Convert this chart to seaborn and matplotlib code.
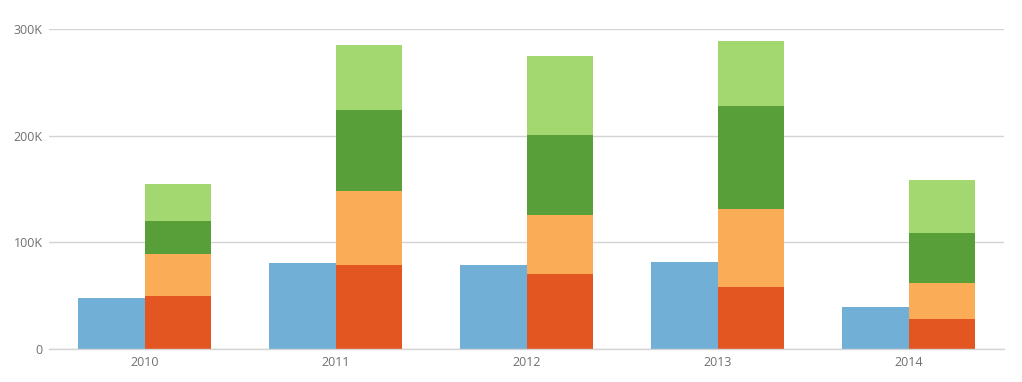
import numpy as np
import pandas as pd
import seaborn as sns
from matplotlib import pyplot as plt
from matplotlib.ticker import FuncFormatter

years = ['2010', '2011', '2012', '2013', '2014']
blue = [48000, 81000, 79000, 82000, 39000]
red = [50000, 79000, 70000, 58000, 28000]
orange = [39000, 69000, 56000, 73000, 34000]
dgreen = [31000, 76000, 75000, 97000, 47000]
lgreen = [35000, 61000, 74000, 61000, 49000]

colors = {'blue': '#71afd7', 'red': '#e35622', 'orange': '#faac57',
          'dgreen': '#589e39', 'lgreen': '#a3d871'}

sns.set_theme(style='white')
plt.rcParams['font.family'] = ['Open Sans', 'DejaVu Sans']

fig = plt.figure(figsize=(10.22, 3.82), dpi=100)
ax = fig.add_axes([49/1022, 1-349/382, (1004-49)/1022, 320/382])

# stacked side: draw cumulative tops from highest layer down
layers = [('lgreen', lgreen), ('dgreen', dgreen), ('orange', orange), ('red', red)]
stack = np.array([red, orange, dgreen, lgreen]).cumsum(axis=0)
tops = stack[::-1]
for (name, _), top in zip(layers, tops):
    d = pd.DataFrame({'year': years, 'val': top, 'side': 'stack'})
    sns.barplot(data=d, x='year', y='val', hue='side', hue_order=['single', 'stack'],
                palette={'single': colors['blue'], 'stack': colors[name]},
                dodge=True, width=0.7, linewidth=0, saturation=1, legend=False,
                errorbar=None, ax=ax)

d = pd.DataFrame({'year': years, 'val': blue, 'side': 'single'})
sns.barplot(data=d, x='year', y='val', hue='side', hue_order=['single', 'stack'],
            palette={'single': colors['blue'], 'stack': colors['red']},
            dodge=True, width=0.7, linewidth=0, saturation=1, legend=False,
            errorbar=None, ax=ax)

ax.set_xlim(-0.5, 4.5)
ax.set_ylim(0, 300000)
ax.set_yticks([0, 100000, 200000, 300000])
ax.yaxis.set_major_formatter(FuncFormatter(lambda v, p: '0' if v == 0 else f'{int(v/1000)}K'))
ax.grid(axis='y', color='#d4d4d4', linewidth=1)
ax.set_axisbelow(True)
for s in ['top', 'right', 'left']:
    ax.spines[s].set_visible(False)
ax.spines['bottom'].set_color('#d4d4d4')
ax.spines['bottom'].set_linewidth(1)
ax.tick_params(axis='both', length=0, labelsize=9, labelcolor='#707070')
ax.tick_params(axis='y', pad=4.5)
ax.tick_params(axis='x', pad=5)
ax.set_xlabel('')
ax.set_ylabel('')

fig.savefig('out.png', dpi=100)
